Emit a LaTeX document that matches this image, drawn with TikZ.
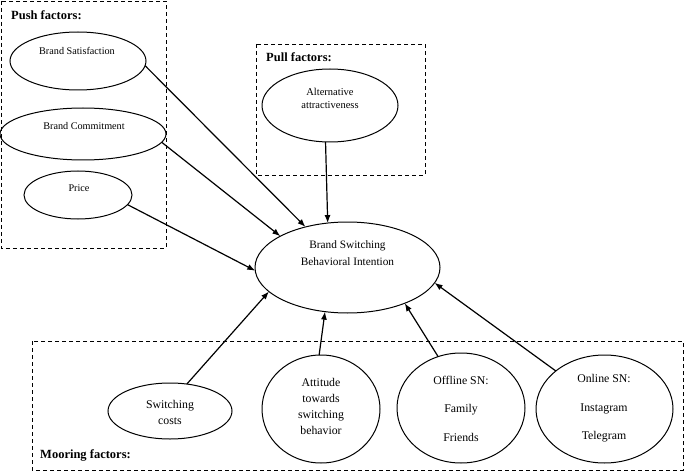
\documentclass[tikz,border=0pt]{standalone}
\usepackage{fontspec}
\setmainfont{Liberation Serif}
\usetikzlibrary{shapes.geometric,arrows.meta}
\begin{document}
\begin{tikzpicture}[x=1pt,y=-1pt,
  ell/.style={ellipse,draw,line width=1pt,inner sep=0pt,outer sep=0pt},
  grp/.style={draw,line width=0.9pt,dash pattern=on 4pt off 3pt},
  hdr/.style={font=\fontsize{12.5}{14}\selectfont\bfseries,anchor=west,inner sep=0pt},
  pushtxt/.style={font=\fontsize{10.2}{12}\selectfont,inner sep=0pt},
  alttxt/.style={font=\fontsize{10.5}{13}\selectfont,align=center,inner sep=0pt},
  ctrtxt/.style={font=\fontsize{11.3}{17}\selectfont,align=center,inner sep=0pt},
  moortxt/.style={font=\fontsize{11.8}{16}\selectfont,align=center,inner sep=0pt},
  lnk/.style={line width=1.2pt,-{Latex[length=8pt,width=6pt]}}
]
\useasboundingbox (0,0) rectangle (685,473);

% group boxes
\draw[grp] (1,1) rectangle (166,248);
\draw[grp] (256,44) rectangle (425,175);
\draw[grp] (32,341) rectangle (683,470);

\node[hdr] (pushh) at (11,15) {Push factors:};
\node[hdr] (pullh) at (266,57) {Pull factors:};
\node[hdr] (moorh) at (40,455) {Mooring factors:};

% push factors
\node[ell,minimum width=136pt,minimum height=58pt] (bs) at (78,61) {};
\node[pushtxt] (bst) at (77,51) {Brand Satisfaction};
\node[ell,minimum width=166pt,minimum height=52pt] (bc) at (83,134) {};
\node[pushtxt] (bct) at (84,126) {Brand Commitment};
\node[ell,minimum width=108pt,minimum height=48pt] (pr) at (78,195) {};
\node[pushtxt] (prt) at (79,188) {Price};

% pull factor
\node[ell,minimum width=136pt,minimum height=73pt] (alt) at (330,105.5) {};
\node[alttxt] (altt) at (330,98.5) {Alternative\\attractiveness};

% central
\node[ell,minimum width=185pt,minimum height=91pt] (c) at (347.5,267.5) {};
\node[ctrtxt] (ct) at (347.5,253.5) {Brand Switching\\Behavioral Intention};

% mooring factors
\node[ell,minimum width=124pt,minimum height=56pt] (sc) at (170,411) {};
\node[moortxt] (sct) at (170,412) {Switching\\costs};
\node[ell,minimum width=118pt,minimum height=108pt] (at) at (321,409) {};
\node[moortxt,font=\fontsize{11.8}{15.7}\selectfont] (att) at (321,406.5) {Attitude\\towards\\switching\\behavior};
\node[ell,minimum width=128pt,minimum height=110pt] (of) at (461,408) {};
\node[moortxt,font=\fontsize{11.8}{28.5}\selectfont] (oft) at (461,408.5) {Offline SN:\\Family\\Friends};
\node[ell,minimum width=137pt,minimum height=108pt] (on) at (604.5,409) {};
\node[moortxt,font=\fontsize{11.8}{28.5}\selectfont] (ont) at (604,408.5) {Online SN:\\Instagram\\Telegram};

% connectors
\draw[lnk] (bs.-4) -- (c.136.3);
\draw[lnk] (bc.-6) -- (c.155.6);
\draw[lnk] (pr.-11.5) -- (c.182.9);
\draw[lnk] (alt.263.7) -- (c.114.8);
\draw[lnk] (sc.58.7) -- (c.197.6);
\draw[lnk] (at.92) -- (c.243.7);
\draw[lnk] (of.114.4) -- (c.-32.2);
\draw[lnk] (on.142.9) -- (c.-10.2);
\end{tikzpicture}
\end{document}
